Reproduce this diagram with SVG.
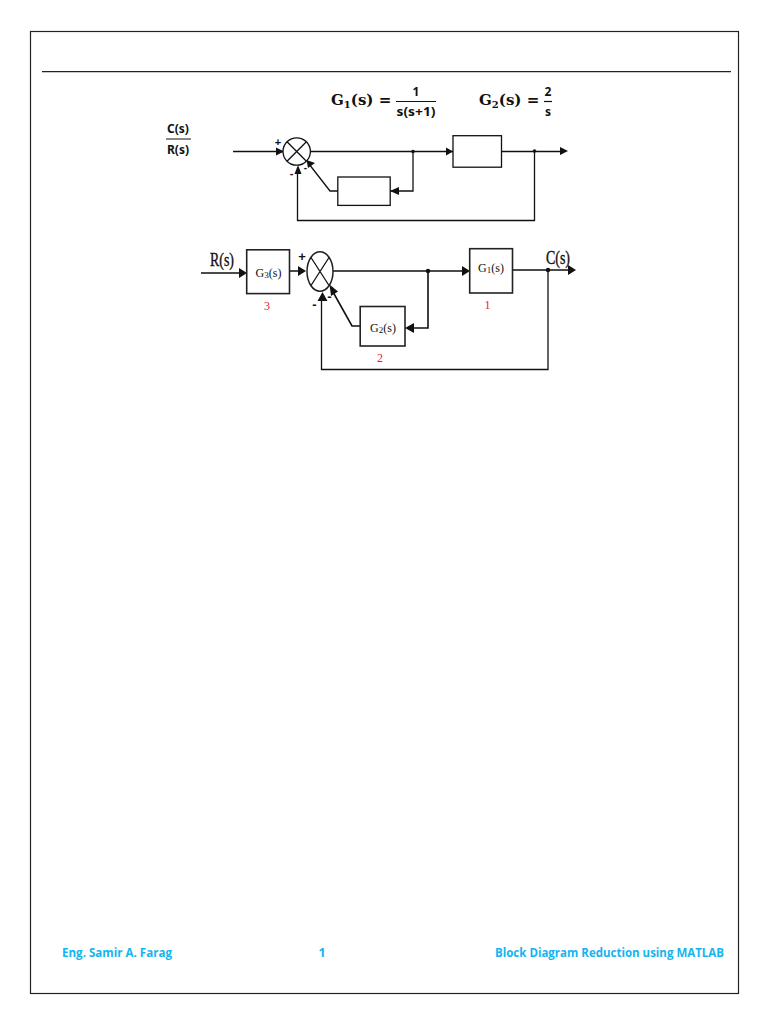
<svg xmlns="http://www.w3.org/2000/svg" width="768" height="1024" viewBox="0 0 768 1024">
<style>
.ln{fill:none;stroke:#111;stroke-width:1.3}
.lb{fill:none;stroke:#111;stroke-width:1.6}
.box{fill:#fff;stroke:#111;stroke-width:1.3}
.boxb{fill:#fff;stroke:#222;stroke-width:1.6}
.dot{fill:#111}
.head{fill:#111;stroke:none}
.eq{font-family:"DejaVu Serif",serif;font-weight:bold;fill:#111}
.fr{font-family:"Noto Sans",sans-serif;font-weight:bold;fill:#111;text-anchor:middle}
.t{font-family:"Liberation Serif",serif;fill:#111}
.sig{font-family:"Liberation Serif",serif;fill:#111;stroke:#111;stroke-width:.35;text-anchor:middle}
.red{font-family:"Liberation Serif",serif;fill:#e0262c;font-size:13px;text-anchor:middle}
.ft{font-family:"Open Sans","Liberation Sans",sans-serif;font-weight:bold;font-size:12.5px;fill:#12b5f0}
.sgn{font-family:"Liberation Sans",sans-serif;font-weight:bold;fill:#111;text-anchor:middle}
</style>
<rect width="768" height="1024" fill="#fff"/>
<rect x="30.500" y="31.500" width="708" height="962" fill="none" stroke="#222" stroke-width="1.200"/>
<line x1="42" y1="71.700" x2="731" y2="71.700" stroke="#222" stroke-width="1.300"/>
<g id="equations">
<text class="eq" x="331" y="105" font-size="15">G<tspan font-size="10" dy="3">1</tspan><tspan dy="-3">(s) =</tspan></text>
<text class="fr" x="416" y="96" font-size="12">1</text>
<line x1="396" y1="101.500" x2="436" y2="101.500" stroke="#111" stroke-width="1.200"/>
<text class="fr" x="416" y="116" font-size="12" textLength="39" lengthAdjust="spacingAndGlyphs">s(s+1)</text>
<text class="eq" x="479" y="105" font-size="15">G<tspan font-size="10" dy="3">2</tspan><tspan dy="-3">(s) =</tspan></text>
<text class="fr" x="548" y="96" font-size="12">2</text>
<line x1="544" y1="101.500" x2="552" y2="101.500" stroke="#111" stroke-width="1.200"/>
<text class="fr" x="548" y="116" font-size="12">s</text>
<text class="fr" x="178" y="133" font-size="12">C(s)</text>
<line x1="166" y1="139" x2="191" y2="139" stroke="#111" stroke-width="1"/>
<text class="fr" x="178" y="154" font-size="12">R(s)</text>
</g>
<g id="connectors">
<path class="ln" d="M233 151.500H283M311 151.500H453M501 151.500H560M413 151.500V191H390M338 191H330L309 164M534.500 151.500V220.500H297.500V170"/>
<polygon class="head" points="284,151.500 276,147.500 276,155.500"/>
<polygon class="head" points="453,151.500 446,147.500 446,155.500"/>
<polygon class="head" points="568,151 560,147 560,155"/>
<polygon class="head" points="390,191 399,187 399,195"/>
<polygon class="head" points="306.500,160 308,168 315,163"/>
<polygon class="head" points="298,165 294.500,174 301.500,174"/>
<circle class="dot" cx="413" cy="151.500" r="1.800"/>
<circle class="dot" cx="534.500" cy="151" r="1.800"/>
<path class="lb" d="M201 273H240M290 271H300M333 271H463M513 270H568M428 271V328H412M360 326H352L333 292"/>
<path class="ln" d="M548 270V369.500H321.500V296"/>
<polygon class="head" points="247,273 239,268 239,278"/>
<polygon class="head" points="306,271 298,266 298,276"/>
<polygon class="head" points="470,271 462,266 462,276"/>
<polygon class="head" points="576,270 568,265 568,275"/>
<polygon class="head" points="405,328 414,323 414,333"/>
<polygon class="head" points="329.500,284.500 331,296 338,291.500"/>
<polygon class="head" points="322.500,292 317.500,301 327.500,301"/>
<circle class="dot" cx="428" cy="271" r="2.200"/>
<circle class="dot" cx="548" cy="270" r="2.200"/>
</g>
<g id="sum1">
<circle cx="296.700" cy="151.500" r="13.700" fill="#fff" stroke="#111" stroke-width="1.300"/>
<path class="ln" d="M287 141.800L306.400 161.200M306.400 141.800L287 161.200"/>
<text class="sgn" x="278" y="146" font-size="11">+</text>
<text class="sgn" x="291.500" y="177" font-size="11">-</text>
<text class="sgn" x="305.500" y="171" font-size="10">-</text>
</g>
<g id="block1"><rect class="box" x="453" y="135.700" width="48.500" height="31.500"/></g>
<g id="block2"><rect class="box" x="337.800" y="177" width="52.400" height="28.400"/></g>
<g id="sum2">
<ellipse cx="320" cy="271.500" rx="13" ry="19.800" fill="#fff" stroke="#222" stroke-width="1.500"/>
<path class="ln" d="M311 257.500L329 285.500M329 257.500L311 285.500"/>
<text class="sgn" x="302" y="261" font-size="13">+</text>
<text class="sgn" x="314.500" y="309" font-size="13">-</text>
<text class="sgn" x="329.500" y="301" font-size="13">-</text>
</g>
<g id="G3">
<rect class="boxb" x="246.700" y="249.800" width="42.800" height="43.800"/>
<text class="t" x="268.500" y="277" font-size="12" text-anchor="middle">G<tspan font-size="9" dy="1">3</tspan><tspan dy="-1">(s)</tspan></text>
<text class="red" x="267" y="310" textLength="6" lengthAdjust="spacingAndGlyphs">3</text>
</g>
<g id="G1">
<rect class="boxb" x="469.700" y="248.700" width="42.800" height="44.300"/>
<text class="t" x="491" y="272" font-size="12" text-anchor="middle">G<tspan font-size="9" dy="1">1</tspan><tspan dy="-1">(s)</tspan></text>
<text class="red" x="487.500" y="309" textLength="6" lengthAdjust="spacingAndGlyphs">1</text>
</g>
<g id="G2">
<rect class="boxb" x="360.200" y="306.500" width="44.800" height="39.500"/>
<text class="t" x="383" y="332" font-size="12" text-anchor="middle">G<tspan font-size="9" dy="1">2</tspan><tspan dy="-1">(s)</tspan></text>
<text class="red" x="380" y="362" textLength="6" lengthAdjust="spacingAndGlyphs">2</text>
</g>
<g id="signals">
<text class="sig" x="222" y="266" font-size="18" textLength="24" lengthAdjust="spacingAndGlyphs">R(s)</text>
<text class="sig" x="558" y="264" font-size="18" textLength="24" lengthAdjust="spacingAndGlyphs">C(s)</text>
</g>
<g id="footer">
<text class="ft" x="62" y="957" textLength="110" lengthAdjust="spacingAndGlyphs">Eng. Samir A. Farag</text>
<text class="ft" x="322" y="957" text-anchor="middle">1</text>
<text class="ft" x="495" y="957" textLength="229" lengthAdjust="spacingAndGlyphs">Block Diagram Reduction using MATLAB</text>
</g>
</svg>
